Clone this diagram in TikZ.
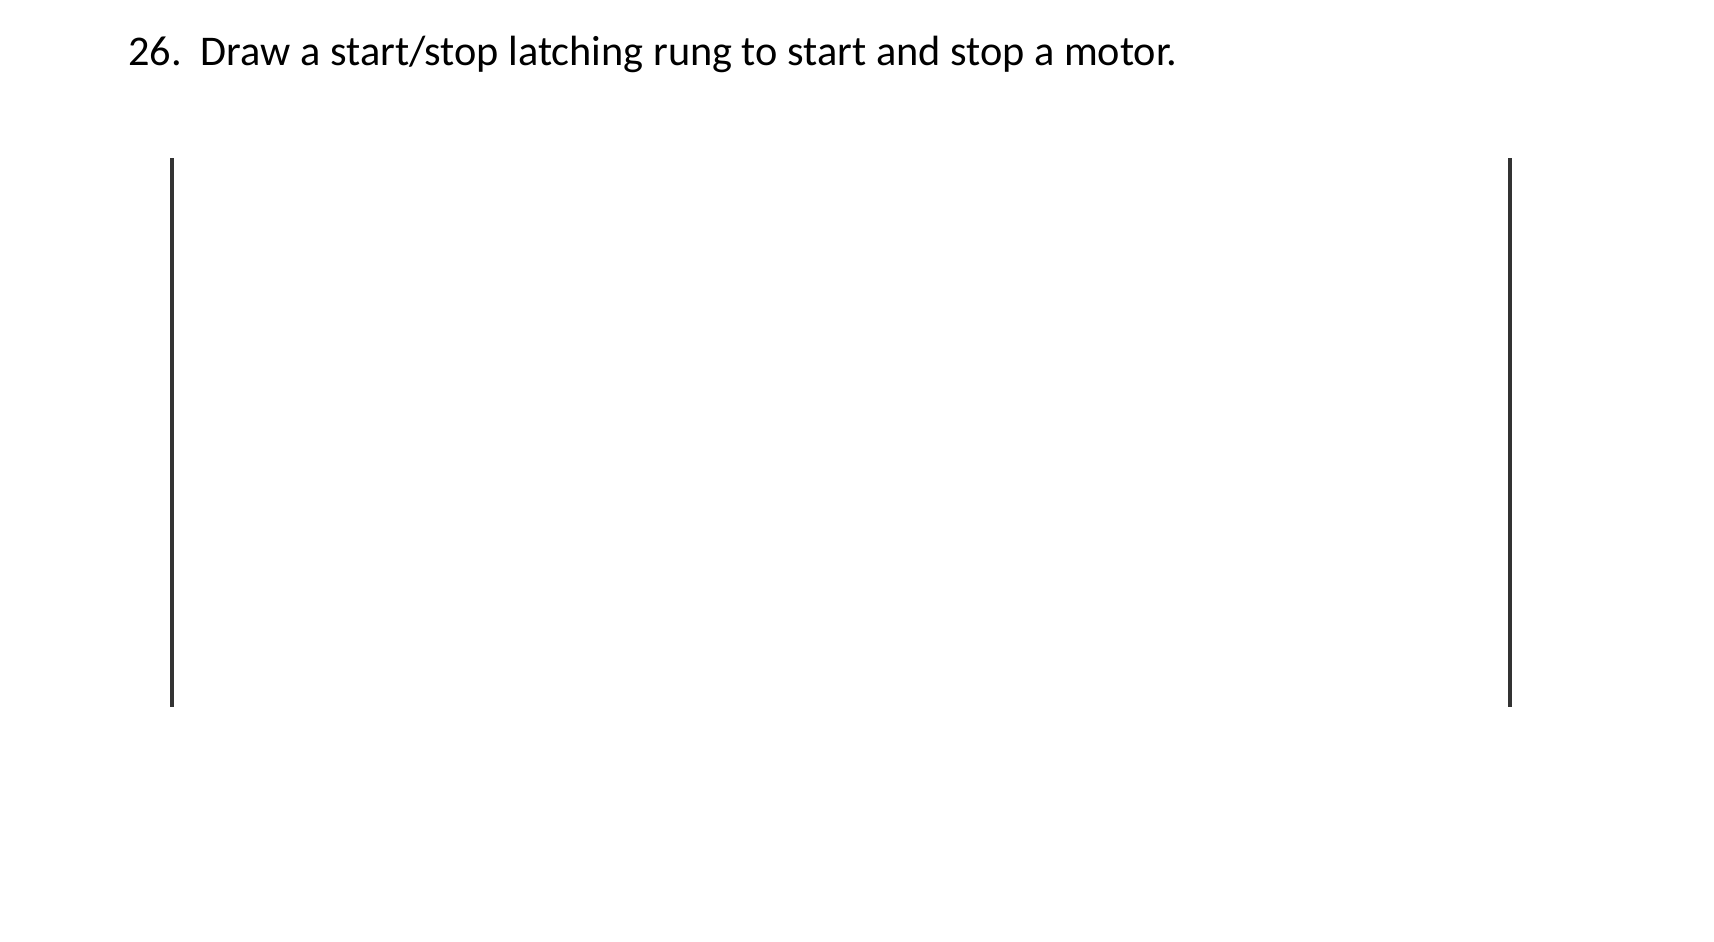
\documentclass[tikz,border=0pt]{standalone}
\usepackage{fontspec}
\setmainfont{Carlito}
\tikzset{
  rail/.style={line width=3.6pt, draw=black!80},
  question/.style={anchor=base west, inner sep=0pt, font=\fontsize{42.3}{50}\selectfont}
}
\begin{document}
\begin{tikzpicture}[x=1pt, y=-1pt]
      \useasboundingbox (0,0) rectangle (1714,942);
      \node[question] (q) at (128,66) {26.\hspace{0.45em}Draw a start/stop latching rung to start and stop a motor.};
      \coordinate (lt) at (172,158);
      \coordinate (lb) at (172,707);
      \coordinate (rt) at (1510,158);
      \coordinate (rb) at (1510,707);
      \begin{scope}[-]
        \draw[rail] (lt) to (lb);
        \draw[rail] (rt) to (rb);
      \end{scope}
    \end{tikzpicture}
\end{document}
